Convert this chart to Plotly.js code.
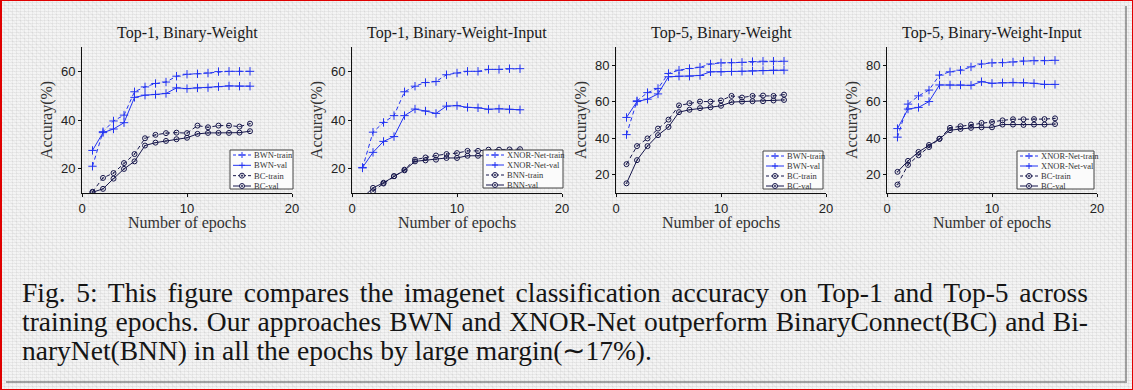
<!DOCTYPE html>
<html>
<head>
<meta charset="utf-8">
<script src="https://cdn.plot.ly/plotly-3.0.1.min.js"></script>
<style>
  html, body { margin:0; padding:0; }
  body { width:1133px; height:390px; overflow:hidden; position:relative;
    background-color:#f4f4f4;
    background-image:
      repeating-linear-gradient(0deg, rgba(0,0,0,0.05) 0 1px, transparent 1px 3px),
      repeating-linear-gradient(90deg, rgba(0,0,0,0.045) 0 1px, transparent 1px 4px),
      repeating-linear-gradient(45deg, rgba(0,0,0,0.025) 0 1px, transparent 1px 5px);
  }
  #plot { position:absolute; left:0; top:0; width:1133px; height:250px; }
  #caption { position:absolute; left:22px; top:278px; width:1066px;
    font-family:"Liberation Serif","Times New Roman",serif; font-size:27.5px; line-height:29px;
    color:#151515; }
  #caption .ln { white-space:normal; }
  #caption .j { text-align:justify; text-align-last:justify; }
  #frame { position:absolute; left:0; top:0; width:1133px; height:390px; box-sizing:border-box;
    border:1px solid #e00000; border-left-width:2px; pointer-events:none; }
  #shadow { position:absolute; left:6px; top:6px; width:1121px; height:377px; box-sizing:border-box;
    border-right:2px solid rgba(60,60,60,0.45); border-bottom:2px solid rgba(60,60,60,0.45); pointer-events:none; }
</style>
</head>
<body>
<div id="plot"></div>
<div id="caption">
  <div class="ln j">Fig. 5: This figure compares the imagenet classification accuracy on Top-1 and Top-5 across</div>
  <div class="ln j">training epochs. Our approaches BWN and XNOR-Net outperform BinaryConnect(BC) and Bi-</div>
  <div class="ln">naryNet(BNN) in all the epochs by large margin(∼17%).</div>
</div>
<div id="shadow"></div>
<div id="frame"></div>
<script>
// ---------- data ----------
const epochs = [1,2,3,4,5,6,7,8,9,10,11,12,13,14,15,16];

const panelTitles = ["Top-1, Binary-Weight", "Top-1, Binary-Weight-Input", "Top-5, Binary-Weight", "Top-5, Binary-Weight-Input"];
const xTitle = "Number of epochs";
const yTitle = "Accuray(%)";

const legendNames1 = ["BWN-train", "BWN-val", "BC-train", "BC-val"];
const legendNames2 = ["XNOR-Net-train", "XNOR-Net-val", "BNN-train", "BNN-val"];
const legendNames3 = ["BWN-train", "BWN-val", "BC-train", "BC-val"];
const legendNames4 = ["XNOR-Net-train", "XNOR-Net-val", "BC-train", "BC-val"];

const xTicks = [0, 10, 20];
const yTicksTop1 = [20, 40, 60];
const yTicksTop5 = [20, 40, 60, 80];

// Panel 1: Top-1, Binary-Weight
const p1_bwn_train = [21, 35.2, 39.6, 42, 51.6, 53.6, 55, 55.6, 58, 58.8, 59, 59.3, 59.9, 60, 60, 60];
const p1_bwn_val   = [27.5, 34.8, 36.3, 38.9, 49.3, 50.2, 50.5, 50.9, 53.2, 52.9, 53.2, 53.3, 53.7, 54, 53.9, 53.9];
const p1_bc_train  = [10.5, 16.2, 18.2, 22.3, 26, 32.5, 33.9, 34.6, 34.8, 34.6, 37.7, 37, 37.7, 37.7, 37.3, 38.5];
const p1_bc_val    = [10.3, 11.7, 15.9, 19.9, 23, 29.5, 30.7, 31.4, 32.1, 32.7, 34.3, 34.7, 34.7, 34.7, 34.8, 35.4];

// Panel 2: Top-1, Binary-Weight-Input
const p2_xnor_train = [20.3, 35, 39, 41.8, 51.6, 53.9, 55.4, 55.8, 58.6, 59.3, 60, 60, 60.8, 60.8, 61.1, 61.1];
const p2_xnor_val   = [20.5, 26.7, 31.2, 33.2, 41.8, 44.5, 43.7, 42.7, 45.7, 45.9, 45.2, 45, 44.4, 44.6, 44.4, 44.2];
const p2_bnn_train  = [7, 10.7, 13.9, 16.9, 19.6, 23.7, 24.6, 25.4, 26, 26.4, 27.3, 27.3, 27.8, 27.8, 27.9, 28];
const p2_bnn_val    = [8, 12.1, 14.2, 16.9, 19.3, 23, 23.4, 23.7, 24.4, 24.4, 25.3, 25.3, 25.3, 25.4, 25.4, 25.5];

// Panel 3: Top-5, Binary-Weight
const p3_bwn_train = [42, 60.5, 65, 67.3, 75.5, 77.3, 78.2, 78.9, 80.7, 81.3, 81.4, 81.6, 82, 82.2, 82.2, 82.2];
const p3_bwn_val   = [51.4, 60.1, 61.4, 64.3, 73.7, 74, 74, 74.4, 76.4, 76.4, 76.6, 76.7, 76.9, 77.1, 77.3, 77.3];
const p3_bc_train  = [25.8, 35.7, 39.9, 45.3, 50.2, 58, 59.2, 60.1, 60.1, 60.7, 63.2, 62.3, 63.2, 63.4, 63.2, 63.9];
const p3_bc_val    = [15.3, 28, 35.7, 41.7, 46.2, 54.3, 55.6, 56.5, 57, 57.8, 59.8, 60.1, 60.3, 60.3, 60.7, 61];

// Panel 4: Top-5, Binary-Weight-Input
const p4_xnor_train = [40.6, 58.7, 63.2, 66.4, 74.6, 76.4, 77.3, 79.1, 80.7, 81.3, 81.4, 81.8, 82.3, 82.5, 82.5, 82.7];
const p4_xnor_val   = [45.3, 56, 56.9, 60.1, 69.2, 69.2, 69.2, 69, 71, 70.1, 70.4, 70.6, 70.4, 70.1, 69.5, 69.5];
const p4_bnn_train  = [14.6, 25.4, 30.7, 35.2, 39.7, 45.7, 46.6, 47.5, 48.4, 48.9, 49.8, 50.4, 50.4, 50.5, 50.5, 50.9];
const p4_bnn_val    = [21.6, 27.6, 32.5, 36.3, 39.7, 44.4, 45.1, 45.7, 46, 46, 47.5, 47.5, 47.3, 47.5, 47.5, 47.8];

// ---------- layout constants (pixels) ----------
const W = 1133, H = 250;
const BLUE = '#2233f2', NAVY = '#15154a';
const SERIF = '"Liberation Serif","Times New Roman",serif';
const SANS = '"Liberation Sans",Arial,sans-serif';
const DASH = '4px,3px';

const panels = [
  {x0:82,  x1:292,  yr:[10,70], yt:yTicksTop1, names:legendNames1,
   data:[p1_bwn_train,p1_bwn_val,p1_bc_train,p1_bc_val], leg:[230,150,293,189]},
  {x0:352, x1:562,  yr:[10,70], yt:yTicksTop1, names:legendNames2,
   data:[p2_xnor_train,p2_xnor_val,p2_bnn_train,p2_bnn_val], leg:[483,150,563,188]},
  {x0:616, x1:826,  yr:[10,90], yt:yTicksTop5, names:legendNames3,
   data:[p3_bwn_train,p3_bwn_val,p3_bc_train,p3_bc_val], leg:[763,151,823,189]},
  {x0:887, x1:1097, yr:[10,90], yt:yTicksTop5, names:legendNames4,
   data:[p4_xnor_train,p4_xnor_val,p4_bnn_train,p4_bnn_val], leg:[1017,151,1094,189]}
];
const yTop = 47, yBot = 193;

const styles = [
  {color:BLUE, dash:DASH,   symbol:'cross-thin', size:6},
  {color:BLUE, dash:'solid',symbol:'cross-thin', size:6},
  {color:NAVY, dash:DASH,   symbol:'circle-open-dot', size:5},
  {color:NAVY, dash:'solid',symbol:'circle-open-dot', size:5}
];

const px = v => v / W;
const py = v => (H - v) / H;

const traces = [];
const layout = {
  width: W, height: H,
  margin: {l:0, r:0, t:0, b:0},
  paper_bgcolor: 'rgba(0,0,0,0)',
  plot_bgcolor: 'rgba(0,0,0,0)',
  showlegend: false,
  annotations: [],
  shapes: []
};

panels.forEach((p, i) => {
  const n = i + 1;
  const xa = 'xaxis' + (n === 1 ? '' : n), ya = 'yaxis' + (n === 1 ? '' : n);
  const xr = 'x' + (n === 1 ? '' : n), yr = 'y' + (n === 1 ? '' : n);
  layout[xa] = {
    domain: [px(p.x0), px(p.x1)], range: [0, 20], anchor: yr,
    showline: true, linecolor: '#111', linewidth: 1, mirror: false,
    showgrid: false, zeroline: false,
    tickmode: 'array', tickvals: xTicks, ticktext: xTicks.map(String),
    ticks: 'outside', ticklen: 3, tickcolor: '#111',
    tickfont: {family: SANS, size: 13, color: '#222'}
  };
  layout[ya] = {
    domain: [py(yBot), py(yTop)], range: p.yr, anchor: xr,
    showline: true, linecolor: '#111', linewidth: 1, mirror: false,
    showgrid: false, zeroline: false,
    tickmode: 'array', tickvals: p.yt, ticktext: p.yt.map(String),
    ticks: 'outside', ticklen: 3, tickcolor: '#111',
    tickfont: {family: SANS, size: 13, color: '#222'}
  };
  p.data.forEach((ys, k) => {
    const s = styles[k];
    traces.push({
      type: 'scatter', mode: 'lines+markers', x: epochs, y: ys,
      xaxis: xr, yaxis: yr, name: p.names[k],
      line: {color: s.color, width: 1, dash: s.dash},
      marker: {symbol: s.symbol, size: s.size, color: s.color, line: {color: s.color, width: 1}}
    });
  });
  const cx = (p.x0 + p.x1) / 2;
  layout.annotations.push({xref:'paper', yref:'paper', x: px(cx), y: py(33), text: panelTitles[i],
    showarrow:false, xanchor:'center', yanchor:'middle', font:{family:SERIF, size:16, color:'#1a1a1a'}});
  layout.annotations.push({xref:'paper', yref:'paper', x: px(cx), y: py(223), text: xTitle,
    showarrow:false, xanchor:'center', yanchor:'middle', font:{family:SERIF, size:16, color:'#333'}});
  layout.annotations.push({xref:'paper', yref:'paper', x: px(p.x0 - 35), y: py((yTop + yBot) / 2), text: yTitle,
    textangle:-90, showarrow:false, xanchor:'center', yanchor:'middle', font:{family:SERIF, size:16, color:'#333'}});

  const [lx0, ly0, lx1, ly1] = p.leg;
  layout.shapes.push({type:'rect', xref:'paper', yref:'paper', x0:px(lx0), x1:px(lx1), y0:py(ly1), y1:py(ly0),
    fillcolor:'#fbfbfb', line:{color:'#444', width:1}, layer:'above'});
  const rowH = (ly1 - ly0 - 8) / 3;
  p.names.forEach((nm, k) => {
    const s = styles[k];
    const ry = ly0 + 5 + k * rowH;
    const sx0 = lx0 + 3, sx1 = lx0 + 21, mx = (sx0 + sx1) / 2;
    layout.shapes.push({type:'line', xref:'paper', yref:'paper', x0:px(sx0), x1:px(sx1), y0:py(ry), y1:py(ry),
      line:{color:s.color, width:1, dash: s.dash === 'solid' ? 'solid' : '3px,2px'}, layer:'above'});
    if (s.symbol === 'cross-thin') {
      layout.shapes.push({type:'line', xref:'paper', yref:'paper', x0:px(mx-3), x1:px(mx+3), y0:py(ry), y1:py(ry),
        line:{color:s.color, width:1}, layer:'above'});
      layout.shapes.push({type:'line', xref:'paper', yref:'paper', x0:px(mx), x1:px(mx), y0:py(ry-3), y1:py(ry+3),
        line:{color:s.color, width:1}, layer:'above'});
    } else {
      layout.shapes.push({type:'circle', xref:'paper', yref:'paper', x0:px(mx-2.5), x1:px(mx+2.5), y0:py(ry+2.5), y1:py(ry-2.5),
        fillcolor:'#fbfbfb', line:{color:s.color, width:1}, layer:'above'});
      layout.shapes.push({type:'circle', xref:'paper', yref:'paper', x0:px(mx-0.8), x1:px(mx+0.8), y0:py(ry+0.8), y1:py(ry-0.8),
        fillcolor:s.color, line:{color:s.color, width:0.5}, layer:'above'});
    }
    layout.annotations.push({xref:'paper', yref:'paper', x: px(sx1 + 1), y: py(ry), text: nm,
      showarrow:false, xanchor:'left', yanchor:'middle', font:{family:SERIF, size:8.5, color:'#333'}});
  });
});

Plotly.newPlot('plot', traces, layout, {staticPlot: true, displayModeBar: false});
</script>
</body>
</html>
